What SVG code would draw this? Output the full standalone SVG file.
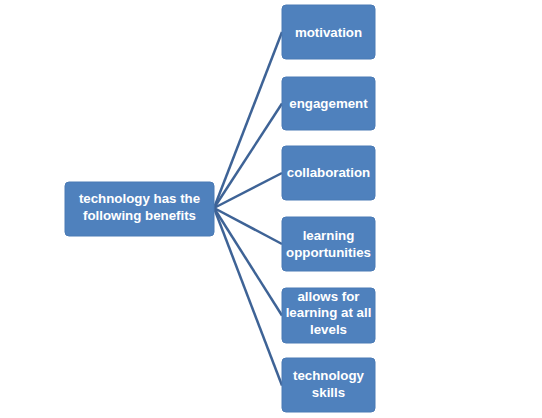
<svg xmlns="http://www.w3.org/2000/svg" width="542" height="418" viewBox="0 0 542 418">
<style>
.box{fill:#4f81bd;stroke:#4a7ab5;stroke-width:1}
.t{fill:#ffffff;font-family:"Liberation Sans",Arial,sans-serif;font-weight:bold;font-size:13.3px;text-anchor:middle}
.c{stroke:#3e6396;stroke-width:2.5;fill:none}
</style>
<rect width="542" height="418" fill="#ffffff"/>
<g id="connectors">
<line class="c" x1="214" y1="208" x2="282" y2="32"/>
<line class="c" x1="214" y1="208" x2="282" y2="103.5"/>
<line class="c" x1="214" y1="208" x2="282" y2="173"/>
<line class="c" x1="214" y1="208" x2="282" y2="244"/>
<line class="c" x1="214" y1="208" x2="282" y2="315.5"/>
<line class="c" x1="214" y1="208" x2="282" y2="385.5"/>
</g>
<g id="root">
<rect class="box" x="65" y="182" width="149" height="54" rx="4"/>
<text class="t" x="139.5" y="203">technology has the</text>
<text class="t" x="139.5" y="219.5">following benefits</text>
</g>
<g id="n1">
<rect class="box" x="282" y="5" width="93" height="54" rx="4"/>
<text class="t" x="328.5" y="36.5">motivation</text>
</g>
<g id="n2">
<rect class="box" x="282" y="77" width="93" height="53" rx="4"/>
<text class="t" x="328.5" y="107.5">engagement</text>
</g>
<g id="n3">
<rect class="box" x="282" y="146" width="93" height="54" rx="4"/>
<text class="t" x="328.5" y="177">collaboration</text>
</g>
<g id="n4">
<rect class="box" x="282" y="217" width="93" height="54" rx="4"/>
<text class="t" x="328.5" y="240">learning</text>
<text class="t" x="328.5" y="257">opportunities</text>
</g>
<g id="n5">
<rect class="box" x="282" y="288" width="93" height="55" rx="4"/>
<text class="t" x="328.5" y="300.5">allows for</text>
<text class="t" x="328.5" y="317">learning at all</text>
<text class="t" x="328.5" y="333.5">levels</text>
</g>
<g id="n6">
<rect class="box" x="282" y="358" width="93" height="54" rx="4"/>
<text class="t" x="328.5" y="380">technology</text>
<text class="t" x="328.5" y="397">skills</text>
</g>
</svg>
